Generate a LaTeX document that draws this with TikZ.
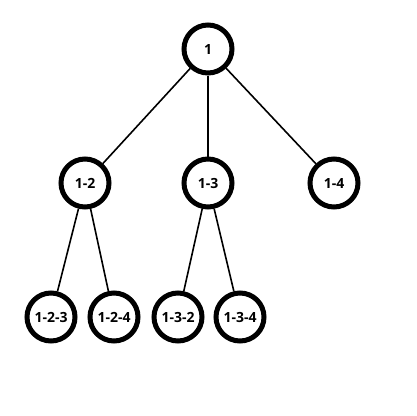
\documentclass[tikz,border=0pt]{standalone}
\usepackage{fontspec}
\setmainfont{Open Sans}
\usepackage{tikz}
\usetikzlibrary{positioning}
\definecolor{ink}{HTML}{000000}
\tikzset{
  vtx/.style  = {circle, draw=ink, line width=5pt, fill=white, minimum size=48pt, inner sep=0pt,
                 font=\bfseries\fontsize{14}{16}\selectfont, text=ink},
  edg/.style  = {draw=ink, line width=1.6pt},
}
\begin{document}
\begin{tikzpicture}[x=1pt,y=-1pt]
  \useasboundingbox (0,0) rectangle (416,416);
  % ---------------- root ----------------
  \node[vtx] (n1) at (208,49) {1};

  % ---------------- second level ----------------
  \node[vtx] (n12) at (85,183) {1-2};
  \node[vtx] (n13) at (208,183) {1-3};
  \node[vtx] (n14) at (334,183) {1-4};

  % ---------------- leaves ----------------
  \node[vtx] (n123) at (51,317) {1-2-3};
  \node[vtx] (n124) at (114,317) {1-2-4};
  \node[vtx] (n132) at (178,317) {1-3-2};
  \node[vtx] (n134) at (240,317) {1-3-4};

  % edges
  \draw[edg] (n1) -- (n12);
  \draw[edg] (n1) -- (n13);
  \draw[edg] (n1) -- (n14);
  \draw[edg] (n12) -- (n123);
  \draw[edg] (n12) -- (n124);
  \draw[edg] (n13) -- (n132);
  \draw[edg] (n13) -- (n134);
\end{tikzpicture}
\end{document}
